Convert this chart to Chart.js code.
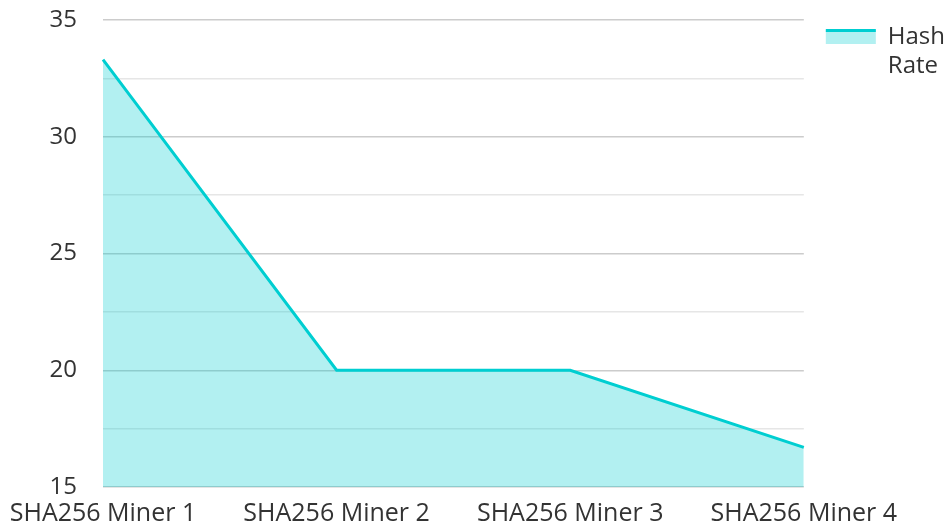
<!DOCTYPE html>
<html lang="en">
<head>
    <meta charset="UTF-8">
    <title>Hash Rate</title>
    <style>
        html, body { margin: 0; padding: 0; background: #fff; }
        .wrap { width: 948px; height: 526px; }
    </style>
</head>
<body>
    <div class="wrap"><canvas id="myChart"></canvas></div>
    <script src="https://cdn.jsdelivr.net/npm/chart.js@4/dist/chart.umd.min.js"></script>
    <script>
const miners = ['SHA256 Miner 1', 'SHA256 Miner 2', 'SHA256 Miner 3', 'SHA256 Miner 4'];
const hashRate = [33.3, 20, 20, 16.7];
const seriesName = 'Hash Rate';

const teal = 'rgb(0, 206, 209)';
const tealFill = 'rgba(0, 206, 209, 0.3)';

// nudge the legend up a little and draw a teal line along the top of its swatch
const legendTweak = {
    id: 'legendTweak',
    afterLayout(chart) {
        const lg = chart.legend;
        if (!lg) return;
        lg.top -= 17;
        lg.bottom -= 17;
    },
    afterDraw(chart) {
        const lg = chart.legend;
        if (!lg || !lg.legendHitBoxes) return;
        const ctx = chart.ctx;
        lg.legendHitBoxes.forEach(b => {
            ctx.save();
            ctx.fillStyle = teal;
            ctx.fillRect(b.left, b.top + 4, 50, 3);
            ctx.restore();
        });
    }
};

const ctx = document.getElementById('myChart').getContext('2d');
new Chart(ctx, {
    type: 'line',
    data: {
        labels: miners,
        datasets: [{
            label: seriesName,
            data: hashRate,
            borderColor: teal,
            backgroundColor: tealFill,
            borderWidth: 3,
            fill: 'origin',
            pointRadius: 0,
            tension: 0
        }]
    },
    options: {
        responsive: true,
        maintainAspectRatio: false,
        animation: false,
        layout: { padding: { top: 20, right: 0, bottom: -7, left: 10 } },
        plugins: {
            tooltip: { enabled: false },
            legend: {
                position: 'right',
                align: 'start',
                labels: {
                    boxWidth: 50,
                    boxHeight: 14,
                    padding: 22,
                    font: { family: 'Open Sans', size: 24 },
                    color: '#333',
                    generateLabels(chart) {
                        return chart.data.datasets.map((ds, i) => ({
                            text: ds.label.split(' '),
                            fillStyle: tealFill,
                            strokeStyle: 'rgba(0,0,0,0)',
                            lineWidth: 0,
                            fontColor: '#333',
                            datasetIndex: i
                        }));
                    }
                }
            }
        },
        scales: {
            x: {
                offset: false,
                grid: { display: false },
                border: { display: false },
                ticks: {
                    color: '#333',
                    font: { family: 'Open Sans', size: 25 },
                    maxRotation: 0,
                    padding: 4
                }
            },
            y: {
                min: 15,
                max: 35,
                afterFit: scale => { scale.width = 93; },
                border: { display: false },
                grid: {
                    drawTicks: true,
                    tickLength: 24,
                    tickColor: 'rgba(0,0,0,0)',
                    color: c => (c.tick && c.tick.value % 5 === 0) ? '#cccccc' : '#e6e6e6',
                    lineWidth: 1.5
                },
                ticks: {
                    stepSize: 2.5,
                    color: '#333',
                    font: { family: 'Open Sans', size: 24 },
                    padding: 2,
                    callback: v => (v % 5 === 0 ? v : '')
                }
            }
        }
    },
    plugins: [legendTweak]
});
    </script>
</body>
</html>
